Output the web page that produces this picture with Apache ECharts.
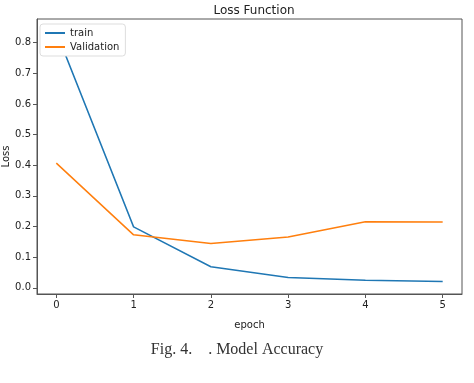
<!DOCTYPE html>
<html><head><meta charset="utf-8">
<script src="https://cdn.jsdelivr.net/npm/echarts@6/dist/echarts.min.js"></script>
<style>html,body{margin:0;padding:0;background:#fff}#c{width:474px;height:383px}</style>
</head><body><div id="c"></div>
<script>
const epochs = [0, 1, 2, 3, 4, 5];
const trainLoss = [0.835, 0.199, 0.069, 0.034, 0.025, 0.021];
const valLoss = [0.407, 0.173, 0.145, 0.166, 0.216, 0.215];
const xTicks = [0, 1, 2, 3, 4, 5];
const yTicks = [0.0, 0.1, 0.2, 0.3, 0.4, 0.5, 0.6, 0.7, 0.8];
const seriesNames = ['train', 'Validation'];
const titleText = 'Loss Function';
const captionText = 'Fig. 4.\u00a0\u00a0\u00a0\u00a0. Model Accuracy';

const font = 'DejaVu Sans';
const chart = echarts.init(document.getElementById('c'), null, {renderer: 'canvas'});
chart.setOption({
  animation: false,
  backgroundColor: '#fff',
  title: {
    text: titleText, left: 249, top: 0, textAlign: 'center',
    textStyle: {fontFamily: font, fontSize: 12, fontWeight: 'normal', color: '#222'}
  },
  grid: {left: 37, right: 12, top: 19, bottom: 89, containLabel: false, outerBoundsMode: 'none',
    show: true, borderColor: '#555', borderWidth: 1, backgroundColor: 'transparent'},
  legend: {
    left: 40, top: 24, orient: 'vertical', itemGap: 4, itemWidth: 20, itemHeight: 2, icon: 'rect',
    padding: [4, 6, 4, 5], borderColor: '#ddd', borderWidth: 1, borderRadius: 3, backgroundColor: '#fff',
    textStyle: {fontFamily: font, fontSize: 10, color: '#222'},
    data: seriesNames
  },
  xAxis: {
    type: 'value', min: -0.25, max: 5.25,
    name: 'epoch', nameLocation: 'middle', nameGap: 26, nameMoveOverlap: false,
    nameTextStyle: {fontFamily: font, fontSize: 10, color: '#222'},
    axisLine: {show: true, onZero: false, lineStyle: {color: '#555'}},
    axisTick: {show: true, length: 4, customValues: xTicks, lineStyle: {color: '#555'}},
    axisLabel: {customValues: xTicks, fontFamily: font, fontSize: 10, color: '#222', margin: 6},
    splitLine: {show: false}
  },
  yAxis: {
    type: 'value', min: -0.02, max: 0.877,
    name: 'Loss', nameLocation: 'middle', nameGap: 26, nameMoveOverlap: false,
    nameTextStyle: {fontFamily: font, fontSize: 10, color: '#222'},
    axisLine: {show: true, onZero: false, lineStyle: {color: '#555'}},
    axisTick: {show: true, length: 4, customValues: yTicks, lineStyle: {color: '#555'}},
    axisLabel: {customValues: yTicks, fontFamily: font, fontSize: 10, color: '#222', margin: 6,
      formatter: v => v.toFixed(1)},
    splitLine: {show: false}
  },
  series: [
    {name: seriesNames[0], type: 'line', data: epochs.map((e, i) => [e, trainLoss[i]]),
     showSymbol: false, symbol: 'none', lineStyle: {color: '#1f77b4', width: 1.5}, itemStyle: {color: '#1f77b4'}},
    {name: seriesNames[1], type: 'line', data: epochs.map((e, i) => [e, valLoss[i]]),
     showSymbol: false, symbol: 'none', lineStyle: {color: '#ff7f0e', width: 1.5}, itemStyle: {color: '#ff7f0e'}}
  ],
  graphic: [{
    type: 'text', left: 'center', top: 342,
    style: {text: captionText, font: '16px "Liberation Serif"', fill: '#333'}
  }]
});
</script></body></html>
